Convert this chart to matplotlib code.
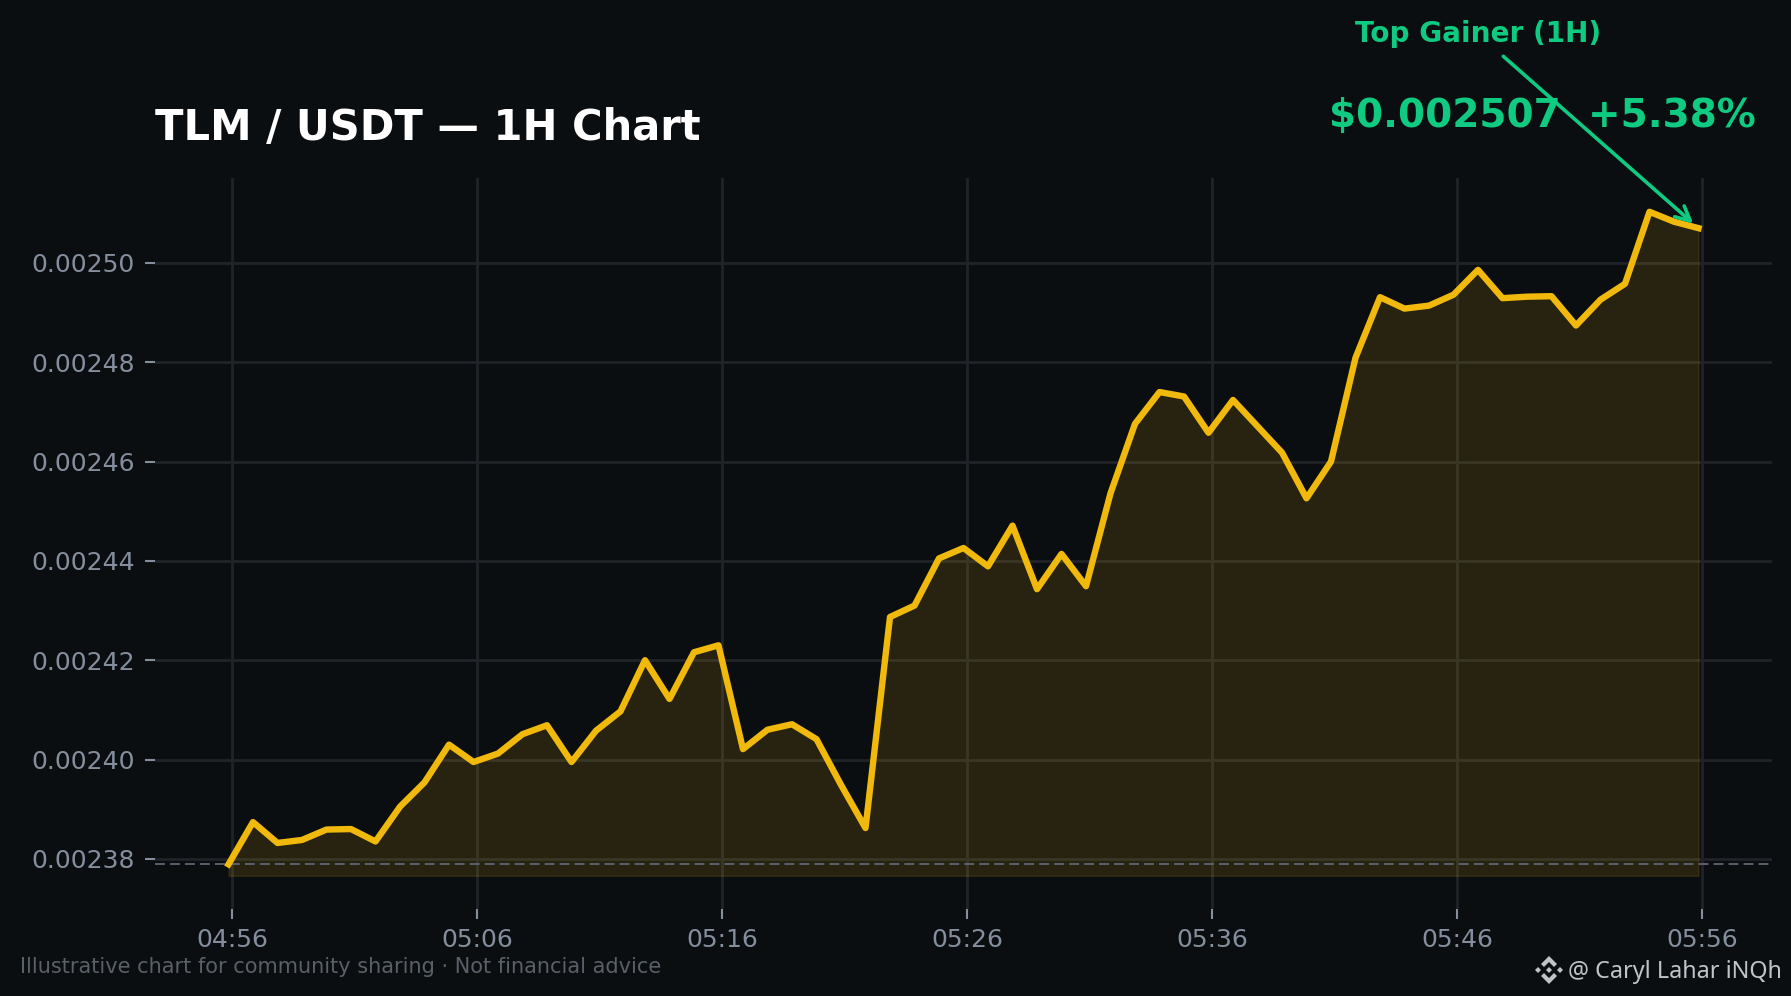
import matplotlib
matplotlib.use('Agg')
import matplotlib.pyplot as plt
from matplotlib.patches import Polygon
from matplotlib.transforms import IdentityTransform

BG = '#0b0e11'
GOLD = '#f0b90b'
GREEN = '#0ecb81'
GRAY = '#848e9c'

# price per minute, in units of 1e-5
prices = [237.89, 238.74, 238.32, 238.38, 238.59, 238.60, 238.35, 239.05, 239.54, 240.30,
          239.95, 240.12, 240.51, 240.69, 239.95, 240.58, 240.97, 242.00, 241.22, 242.16,
          242.30, 240.21, 240.60, 240.71, 240.41, 239.49, 238.62, 242.87, 243.10, 244.05,
          244.26, 243.89, 244.71, 243.43, 244.14, 243.49, 245.36, 246.76, 247.40, 247.31,
          246.58, 247.24, 246.71, 246.18, 245.26, 246.00, 248.09, 249.31, 249.08, 249.14,
          249.36, 249.86, 249.29, 249.32, 249.33, 248.74, 249.26, 249.58, 251.03, 250.83,
          250.70]
first_minute = -0.14
fill_floor = 0.0023766
open_price = 0.002379
xticks = [0, 10, 20, 30, 40, 50, 60]
xlabels = ['04:56', '05:06', '05:16', '05:26', '05:36', '05:46', '05:56']
yticks = [0.00238, 0.00240, 0.00242, 0.00244, 0.00246, 0.00248, 0.00250]

minutes = [first_minute + i for i in range(len(prices))]
values = [p * 1e-5 for p in prices]

fig = plt.figure(figsize=(17.91, 9.96), dpi=100, facecolor=BG)
ax = fig.add_axes([155 / 1791, 1 - 909 / 996, (1772 - 155) / 1791, (909 - 178) / 996], facecolor=BG)

ax.grid(True, color='#202429', linewidth=2, zorder=1)
ax.set_axisbelow(True)
ax.fill_between(minutes, values, fill_floor, color=GOLD, alpha=0.125, zorder=2)
ax.plot(minutes, values, color=GOLD, linewidth=4.6, zorder=3)
ax.axhline(open_price, color='#5e6673', linewidth=1.3, linestyle=(0, (5.5, 2.8)), zorder=2.5)

for s in ax.spines.values():
    s.set_visible(False)
ax.set_xticks(xticks)
ax.set_xticklabels(xlabels)
ax.set_yticks(yticks)
ax.set_yticklabels(['%.5f' % t for t in yticks])
ax.tick_params(colors=GRAY, labelsize=18, length=7, width=1.5, pad=7.5)
ax.tick_params(axis='x', pad=7)
ax.set_xlim(-3.14, 62.86)
ax.set_ylim(0.0023699, 0.0025171)

fig.text(155 / 1791, 1 - 128 / 996, 'TLM / USDT \u2014 1H Chart', color='white', fontsize=30,
         fontweight='bold', ha='left', va='center')
fig.text(1756 / 1791, 1 - 116 / 996, '$0.002507  +5.38%', color=GREEN, fontsize=28.1,
         fontweight='bold', ha='right', va='center')
ax.annotate('Top Gainer (1H)', xy=(minutes[-1], values[-1]), xycoords='data',
            xytext=(1478, 996 - 34), textcoords='figure pixels', color=GREEN, fontsize=20.1,
            fontweight='bold', ha='center', va='center', annotation_clip=False,
            arrowprops=dict(arrowstyle='->', color=GREEN, linewidth=2.6, mutation_scale=26,
                            shrinkA=6, shrinkB=5), zorder=5)

fig.text(20 / 1791, 1 - 967 / 996, 'Illustrative chart for community sharing \u00b7 Not financial advice',
         color='#5a6068', fontsize=15, ha='left', va='center')
fig.text(1568 / 1791, 1 - 972 / 996, '@ Caryl Lahar iNQh', color='#c0c4c9', fontsize=16.8,
         family='Noto Sans', ha='left', va='center')

# small logo next to the handle, in pixels
cx, cy = 1549, 996 - 970
logo = [[(-3, 0), (0, 3), (3, 0), (0, -3)],
        [(-14, 0), (-11, 3), (-8, 0), (-11, -3)],
        [(14, 0), (11, 3), (8, 0), (11, -3)],
        [(-8, 6), (0, 14), (8, 6), (5, 3), (0, 8), (-5, 3)],
        [(-8, -6), (0, -14), (8, -6), (5, -3), (0, -8), (-5, -3)]]
for shape in logo:
    fig.add_artist(Polygon([(cx + a, cy + b) for a, b in shape], closed=True, facecolor='#c0c4c9',
                           edgecolor='none', transform=IdentityTransform()))

fig.savefig('out.png', dpi=100, facecolor=BG)
